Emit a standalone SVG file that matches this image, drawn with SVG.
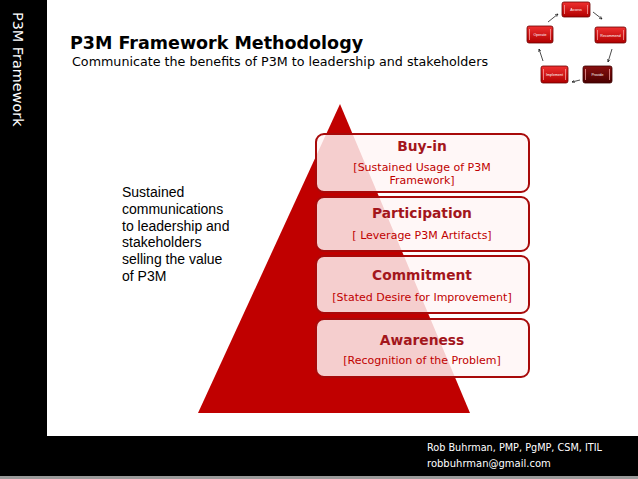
<svg xmlns="http://www.w3.org/2000/svg" width="638" height="479" viewBox="0 0 638 479">
<style>
.side{font-family:"DejaVu Sans",sans-serif;font-size:14.4px;fill:#fff}
.title{font-family:"DejaVu Sans",sans-serif;font-size:17.5px;font-weight:bold;fill:#000}
.sub{font-family:"DejaVu Sans",sans-serif;font-size:12px;fill:#000}
.note{font-family:"Liberation Sans",Arial,sans-serif;font-size:14px;fill:#000}
.box{fill:#fff6f6;fill-opacity:0.84;stroke:#a80a0a;stroke-width:2}
.bt{font-family:"DejaVu Sans",sans-serif;font-size:13.8px;font-weight:bold;fill:#a3161c;text-anchor:middle}
.bs{font-family:"DejaVu Sans",sans-serif;font-size:11px;fill:#c00000;text-anchor:middle}
.foot{font-family:"DejaVu Sans",sans-serif;font-size:10px;fill:#fff}
.cb{fill:url(#cg);stroke:#6a0000;stroke-width:0.8}
.cbd{fill:url(#cgd);stroke:#3a0000;stroke-width:0.8}
.bar{fill:none;stroke:#ffb0b0;stroke-width:0.7}
.ct{font-family:"Liberation Sans",sans-serif;font-size:3.6px;fill:#fff;text-anchor:middle}
.arr{fill:none;stroke:#000;stroke-width:0.7;marker-end:url(#ah)}
</style>
<defs>
<linearGradient id="cg" x1="0" y1="0" x2="0" y2="1"><stop offset="0" stop-color="#f03030"/><stop offset="1" stop-color="#b00000"/></linearGradient>
<linearGradient id="cgd" x1="0" y1="0" x2="0" y2="1"><stop offset="0" stop-color="#8a1010"/><stop offset="1" stop-color="#4a0000"/></linearGradient>
<marker id="ah" viewBox="0 0 10 10" refX="9" refY="5" markerWidth="5" markerHeight="5" orient="auto"><path d="M1,1 L9,5 L1,9" fill="none" stroke="#000" stroke-width="1.5"/></marker>
</defs>
<rect x="0" y="0" width="638" height="479" fill="#fff"/>
<rect x="0" y="0" width="47" height="436" fill="#000"/>
<rect x="0" y="436" width="638" height="40" fill="#000"/>
<rect x="0" y="476" width="638" height="3" fill="#9a9a9a"/>
<text class="side" transform="translate(13,12) rotate(90)">P3M Framework</text>
<text class="title" x="70" y="49">P3M Framework Methodology</text>
<text class="sub" x="72" y="66" textLength="416" lengthAdjust="spacingAndGlyphs">Communicate the benefits of P3M to leadership and stakeholders</text>
<text class="note" x="122"><tspan x="122" y="197">Sustained</tspan><tspan x="122" y="214">communications</tspan><tspan x="122" y="231">to leadership and</tspan><tspan x="122" y="247">stakeholders</tspan><tspan x="122" y="264">selling the value</tspan><tspan x="122" y="281">of P3M</tspan></text>
<polygon id="pyramid" points="340,104 470,413 198,413" fill="#c00000"/>
<g id="buy-in">
<rect class="box" x="316" y="134" width="213" height="58" rx="8"/>
<text class="bt" x="422" y="151">Buy-in</text>
<text class="bs" x="422" y="171">[Sustained Usage of P3M</text>
<text class="bs" x="422" y="184">Framework]</text>
</g>
<g id="participation">
<rect class="box" x="316" y="197" width="213" height="54" rx="8"/>
<text class="bt" x="422" y="218">Participation</text>
<text class="bs" x="422" y="239">[ Leverage P3M Artifacts]</text>
</g>
<g id="commitment">
<rect class="box" x="316" y="256" width="213" height="57" rx="8"/>
<text class="bt" x="422" y="280">Commitment</text>
<text class="bs" x="422" y="301">[Stated Desire for Improvement]</text>
</g>
<g id="awareness">
<rect class="box" x="316" y="319" width="213" height="58" rx="8"/>
<text class="bt" x="422" y="345">Awareness</text>
<text class="bs" x="422" y="364">[Recognition of the Problem]</text>
</g>
<g id="assess">
<rect class="cb" x="562" y="2" width="28" height="15" rx="2"/>
<path class="bar" d="M564.5,5 V14 M587.5,5 V14"/>
<text class="ct" x="576" y="11">Assess</text>
</g>
<g id="recommend">
<rect class="cb" x="595" y="27" width="31" height="16" rx="2"/>
<path class="bar" d="M597.5,30 V40 M623.5,30 V40"/>
<text class="ct" x="610.5" y="36.5">Recommend</text>
</g>
<g id="provide">
<rect class="cbd" x="583" y="66" width="29" height="17" rx="2"/>
<path class="bar" d="M585.5,69 V80 M609.5,69 V80"/>
<text class="ct" x="597.5" y="76">Provide</text>
</g>
<g id="implement">
<rect class="cb" x="541" y="66" width="27" height="17" rx="2"/>
<path class="bar" d="M543.5,69 V80 M565.5,69 V80"/>
<text class="ct" x="554.5" y="76">Implement</text>
</g>
<g id="operate">
<rect class="cb" x="527" y="26" width="26" height="17" rx="2"/>
<path class="bar" d="M529.5,29 V40 M550.5,29 V40"/>
<text class="ct" x="540" y="36">Operate</text>
</g>
<g id="connectors">
<path class="arr" d="M548,22 L558,14"/>
<path class="arr" d="M593,12 L602,19"/>
<path class="arr" d="M612,49 L608,62"/>
<path class="arr" d="M580,80 L572,82"/>
<path class="arr" d="M543,61 L539,49"/>
</g>
<text class="foot" x="427" y="451" textLength="175" lengthAdjust="spacingAndGlyphs">Rob Buhrman, PMP, PgMP, CSM, ITIL</text>
<text class="foot" x="427" y="467">robbuhrman@gmail.com</text>
</svg>
